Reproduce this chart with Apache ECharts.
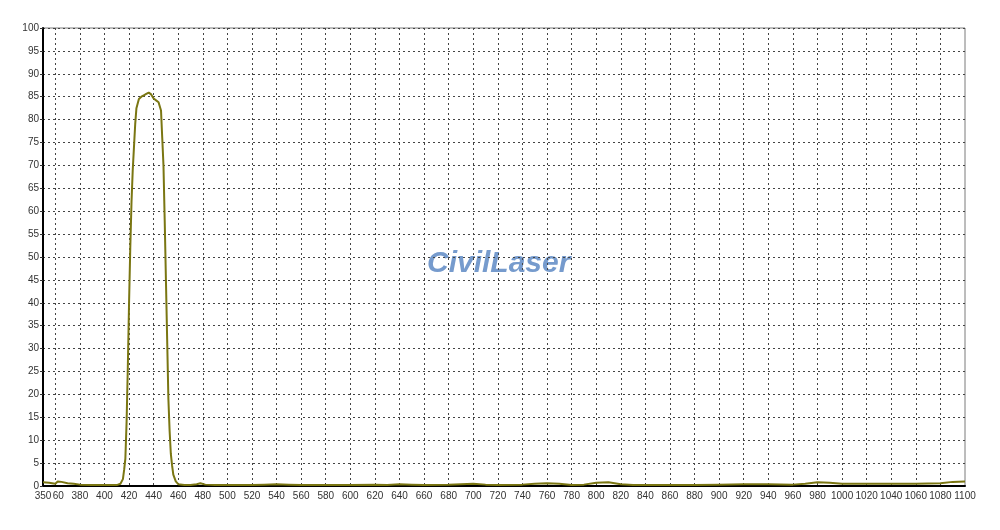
<!DOCTYPE html>
<html><head><meta charset="utf-8">
<script src="https://cdn.jsdelivr.net/npm/echarts@6/dist/echarts.min.js"></script>
<style>html,body{margin:0;padding:0;background:#fff}#c{width:1000px;height:530px}</style>
</head><body><div id="c"></div>
<script>
const wavelengths = [350,355,360,362,365,370,375,380,390,400,410,413,415,416,417,418,419,420,421,422,423,424,425,426,428,430,432,434,436,437,438,440,442,444,445,446,447,448,449,450,451,452,453,454,455,456,458,460,465,470,475,478,482,490,500,520,530,540,550,560,580,600,620,630,640,650,660,680,690,700,710,720,740,750,760,770,780,790,800,810,820,830,840,860,880,900,920,940,960,970,980,990,1000,1020,1040,1060,1080,1090,1100];
const transmission = [0.8,0.7,0.5,1.0,0.9,0.6,0.5,0.3,0.2,0.2,0.2,0.5,1.5,3.5,6,14,26,40,52,62,69,74,79,82.5,84.5,85,85.3,85.6,85.9,86,85.5,84.6,84.2,83.8,83.5,82,76,70,58,45,32,19,12,7,4.5,2.5,1,0.4,0.2,0.2,0.4,0.6,0.3,0.2,0.2,0.2,0.3,0.4,0.3,0.2,0.2,0.2,0.3,0.2,0.4,0.3,0.2,0.3,0.4,0.5,0.3,0.2,0.3,0.5,0.6,0.5,0.2,0.3,0.7,0.8,0.4,0.2,0.2,0.2,0.2,0.3,0.4,0.4,0.3,0.5,0.8,0.7,0.5,0.5,0.5,0.5,0.6,0.9,1.0];
const xLabelValues = [350,380,400,420,440,460,480,500,520,540,560,580,600,620,640,660,680,700,720,740,760,780,800,820,840,860,880,900,920,940,960,980,1000,1020,1040,1060,1080,1100];
const xExtraLabelValues = [360];
const xGridValues = [360,380,400,420,440,460,480,500,520,540,560,580,600,620,640,660,680,700,720,740,760,780,800,820,840,860,880,900,920,940,960,980,1000,1020,1040,1060,1080];
const watermark = 'CivilLaser';

const chart = echarts.init(document.getElementById('c'), null, {renderer:'canvas'});
const gridDash = {color:'#444', type:[2,3], width:1};
const fontFam = '"Liberation Sans Narrow", "Liberation Sans", sans-serif';
const labelStyle = {color:'#333',fontSize:10,fontFamily:fontFam,margin:5};
chart.setOption({
  animation:false,
  backgroundColor:'#fff',
  grid:{left:43,right:35,top:28,bottom:44,show:true,borderColor:'#7a7a7a',borderWidth:1,backgroundColor:'transparent'},
  xAxis:[{type:'value',min:350,max:1100,
    axisLine:{show:true,lineStyle:{color:'#000',width:2}},
    axisTick:{show:false,customValues:xGridValues},
    splitLine:{show:true,lineStyle:gridDash},
    axisLabel:Object.assign({customValues:xLabelValues,showMinLabel:true,showMaxLabel:true,formatter:v=>String(v)},labelStyle)
  },{type:'value',min:350,max:1100,position:'bottom',
    axisLine:{show:false},axisTick:{show:false},splitLine:{show:false},
    axisLabel:Object.assign({customValues:xExtraLabelValues,formatter:v=>String(v).slice(1),padding:[0,0,0,6]},labelStyle)
  }],
  yAxis:{type:'value',min:0,max:100,interval:5,
    axisLine:{show:true,lineStyle:{color:'#000',width:2}},
    axisTick:{show:true,length:3,lineStyle:{color:'#333'}},
    splitLine:{show:true,lineStyle:gridDash},
    axisLabel:{color:'#333',fontSize:10,fontFamily:fontFam,margin:4,showMinLabel:true,showMaxLabel:true}
  },
  graphic:[{type:'text',left:427,top:249,z:0,style:{text:watermark,fill:'#769bcd',font:'italic bold 30px "Liberation Sans", Arial, sans-serif'}}],
  series:[{type:'line',xAxisIndex:0,data:wavelengths.map((w,i)=>[w,transmission[i]]),showSymbol:false,smooth:false,
    lineStyle:{color:'#7a7612',width:2},z:5}]
});
</script></body></html>
